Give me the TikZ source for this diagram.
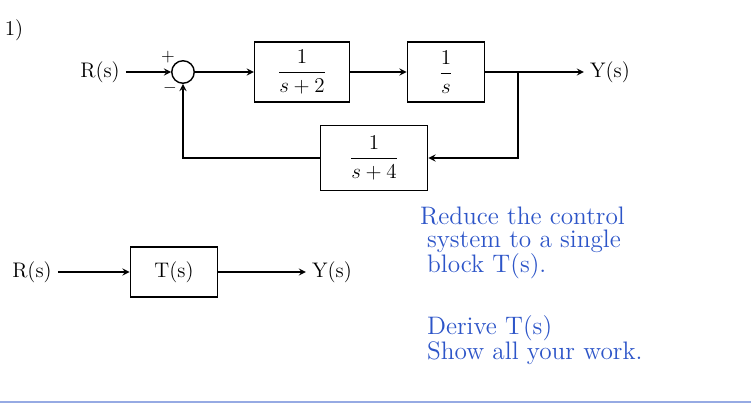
\documentclass[tikz,border=0pt]{standalone}
\usepackage{amsmath}
\usetikzlibrary{arrows,positioning}
\definecolor{penblue}{RGB}{45,85,200}
\tikzstyle{block} = [rectangle, draw = black, thick, minimum height=1.2cm, text centered, font=\large]
\tikzstyle{sum} = [circle, draw = black, thick, minimum size=0.45cm, inner sep=0pt]
\tikzstyle{arrow} = [thick,->,>=stealth]
\tikzstyle{label} = [font=\large]
\tikzstyle{note} = [text=penblue, anchor=west, font=\Large, inner sep=1pt]
\begin{document}
\begin{tikzpicture}[x=0.02cm,y=-0.02cm]
\useasboundingbox (0,0) rectangle (751,407);
\draw[penblue!50, thick] (0,402) -- (751,402);

\node(num) [label] at (14,30) {1)};
\node(R1) [label] at (100,72) {R(s)};
\node(sum) [sum] at (183,72) {};
\node at (168,57) {$+$};
\node at (170,88) {$-$};
\node(G1) [block, minimum width=1.9cm] at (302,72) {$\dfrac{1}{s+2}$};
\node(G2) [block, minimum width=1.55cm] at (446,72) {$\dfrac{1}{s}$};
\node(Y1) [label] at (610,72) {Y(s)};
\coordinate(split) at (518,72);
\node(H) [block, minimum width=2.15cm, minimum height=1.3cm] at (374,158) {$\dfrac{1}{s+4}$};

\draw [arrow] (R1) -- (sum);
\draw [arrow] (sum) -- (G1);
\draw [arrow] (G1) -- (G2);
\draw [arrow] (G2) -- (Y1);
\draw [arrow] (split) |- (H);
\draw [arrow] (H) -| (sum);

\node(R2) [label] at (32,272) {R(s)};
\node(T) [block, minimum width=1.75cm, minimum height=1cm] at (174,272) {T(s)};
\node(Y2) [label] at (332,272) {Y(s)};
\draw [arrow] (R2) -- (T);
\draw [arrow] (T) -- (Y2);

\node[note] at (418,216) {Reduce the control};
\node[note] at (425,241) {system to a single};
\node[note] at (425,266) {block T(s).};
\node[note] at (425,328) {Derive T(s)};
\node[note] at (425,353) {Show all your work.};
\end{tikzpicture}
\end{document}
